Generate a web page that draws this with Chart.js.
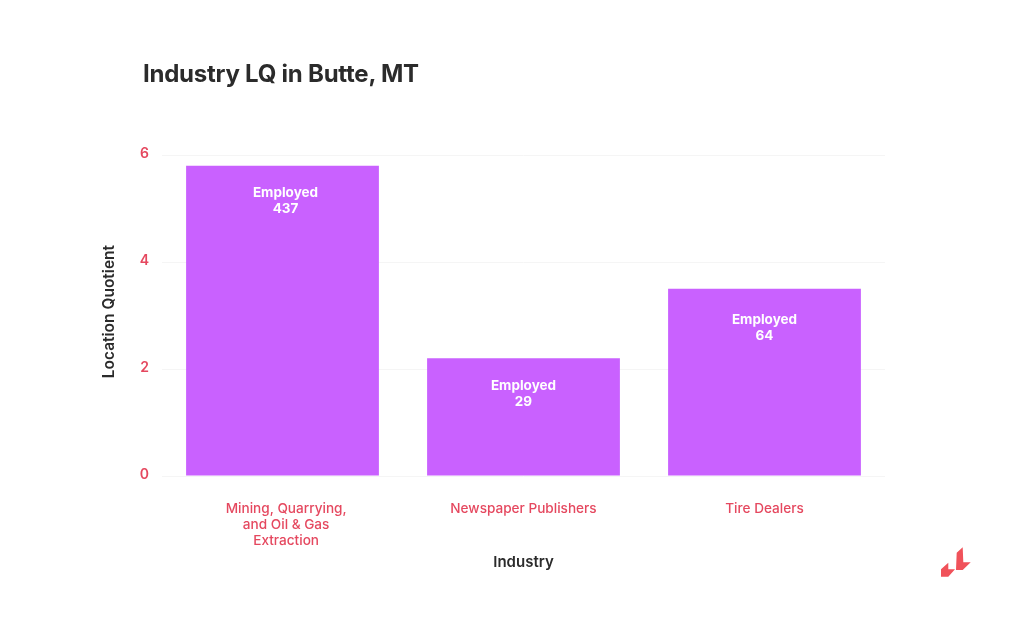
<!DOCTYPE html>
<html>
<head>
<meta charset="utf-8">
<title>Industry LQ in Butte, MT</title>
<script src="https://cdn.jsdelivr.net/npm/chart.js@4"></script>
<style>
  html, body { margin: 0; padding: 0; background: #fff; }
  #wrap { position: relative; width: 1024px; height: 618px; overflow: hidden; }
  h1 { position: absolute; left: 143px; top: 59px; margin: 0; font: 700 24px/30px Inter, sans-serif; color: #2b2b2b; letter-spacing: -0.24px; }
  #logo { position: absolute; left: 0; top: 0; }
</style>
</head>
<body>
<div id="wrap">
  <canvas id="chart" width="1024" height="618"></canvas>
  <h1>Industry LQ in Butte, MT</h1>
  <svg id="logo" width="1024" height="618">
    <polygon fill="#f0525a" points="962.7,547.3 956.7,552.7 956,570 962.7,570 970.7,562.3 963.3,562.3" />
    <polygon fill="#f0525a" points="948.3,562.7 941,569.3 941,576.7 948.3,576.7 955,569.3 948.3,569.3" />
  </svg>
</div>
<script>
const categories = [
  ["Mining, Quarrying,", "and Oil & Gas", "Extraction"],
  "Newspaper Publishers",
  "Tire Dealers",
];
const locationQuotient = [5.8, 2.2, 3.5];
const employed = [437, 29, 64];

const red = "#e5485f";
const dark = "#2b2b2b";

// Texty uvnitř sloupců
const barLabels = {
  id: "barLabels",
  afterDatasetsDraw(chart) {
    const ctx = chart.ctx;
    const nudgeX = [3, 0, 0];
    const nudgeY = [27, 28, 31];
    ctx.save();
    ctx.fillStyle = "#fff";
    ctx.font = "700 13.5px Inter, sans-serif";
    ctx.textAlign = "center";
    ctx.textBaseline = "middle";
    chart.getDatasetMeta(0).data.forEach((bar, i) => {
      ctx.fillText("Employed", bar.x + nudgeX[i], bar.y + nudgeY[i]);
      ctx.fillText(String(employed[i]), bar.x + nudgeX[i], bar.y + nudgeY[i] + 16);
    });
    ctx.restore();
  },
};

new Chart(document.getElementById("chart"), {
  type: "bar",
  data: {
    labels: categories,
    datasets: [
      {
        label: "Location Quotient",
        data: locationQuotient,
        backgroundColor: "#c961ff",
        barPercentage: 0.8,
        categoryPercentage: 1,
      },
    ],
  },
  options: {
    responsive: false,
    animation: false,
    layout: { padding: { left: 100, right: 139, top: 155, bottom: 47 } },
    plugins: { legend: { display: false }, tooltip: { enabled: false } },
    scales: {
      x: {
        grid: { display: false },
        border: { display: false },
        ticks: {
          color: red,
          font: { family: "Inter", size: 13.6, weight: "500", lineHeight: 16 / 13.6 },
          padding: 17,
          maxRotation: 0,
          autoSkip: false,
          // první popisek je v předloze o něco víc vpravo
          callback(value, index) {
            const label = categories[index];
            return index === 0 ? label.map((line) => "  " + line) : label;
          },
        },
        title: {
          display: true,
          text: "Industry",
          color: dark,
          font: { family: "Inter", size: 15, weight: "600" },
          padding: 0,
        },
        afterFit(scale) {
          scale.height = 95;
        },
      },
      y: {
        min: 0,
        max: 6,
        grid: { color: "#f5f5f5", drawTicks: false },
        border: { display: false },
        ticks: {
          stepSize: 2,
          color: red,
          font: { family: "Inter", size: 14, weight: "600", lineHeight: 3 / 14 },
          padding: 13,
          // prázdný druhý řádek posune popisek nahoru
          callback: (value) => [String(value), ""],
        },
        title: {
          display: true,
          // mezery na začátku posouvají popisek o 4 px nahoru
          text: "  Location Quotient",
          color: dark,
          font: { family: "Inter", size: 15.5, weight: "600" },
          padding: 0,
        },
        afterFit(scale) {
          scale.width = 62;
        },
      },
    },
  },
  plugins: [barLabels],
});
</script>
</body>
</html>
